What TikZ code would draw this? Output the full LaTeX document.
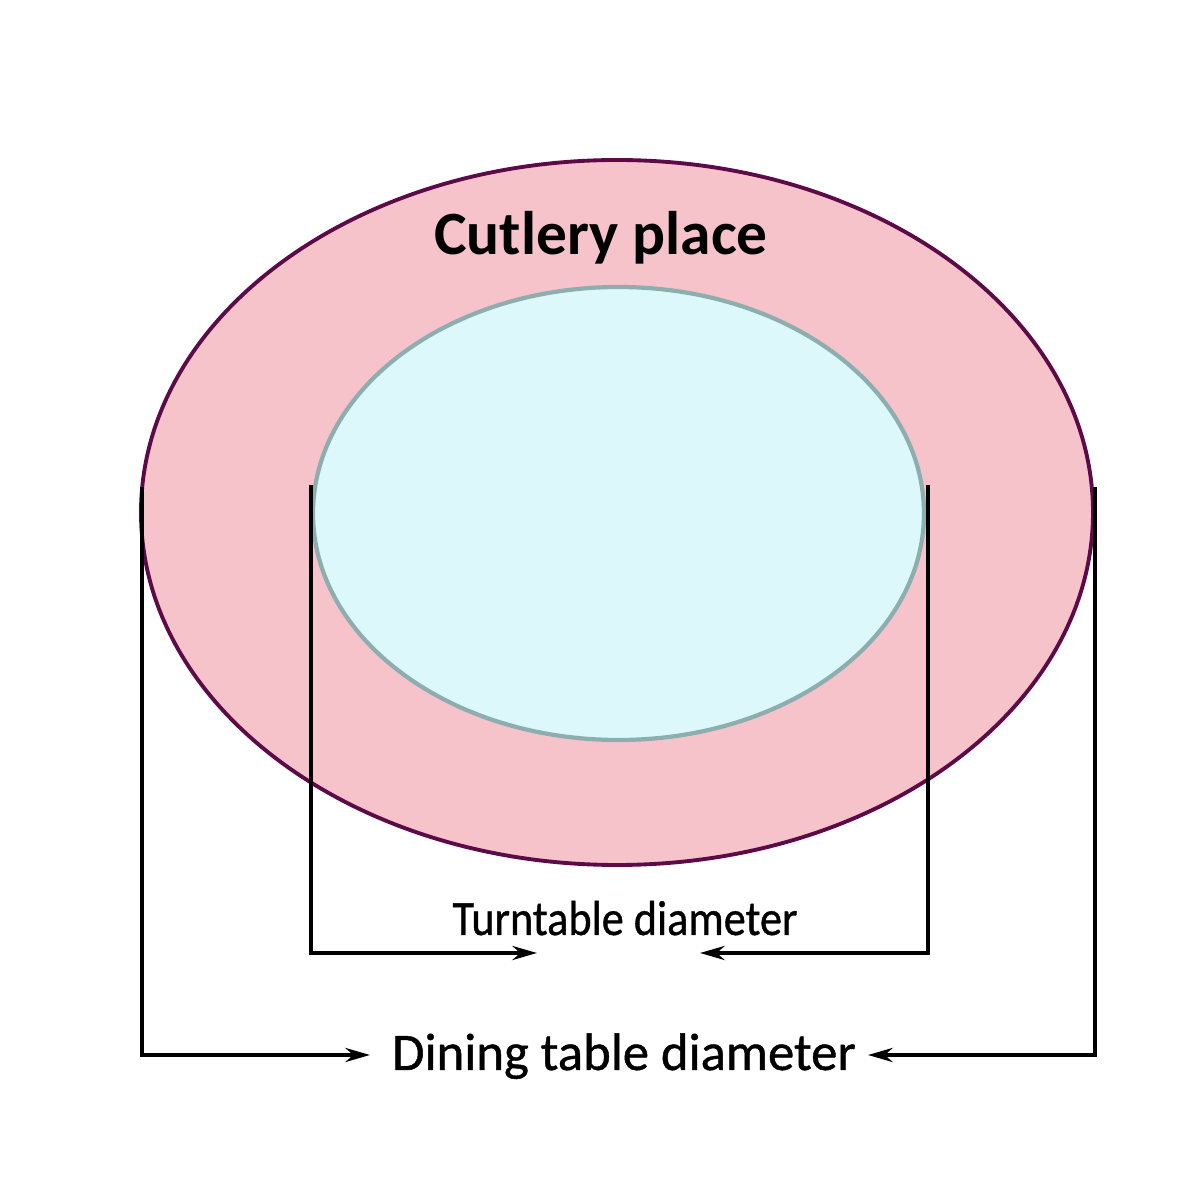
\documentclass[tikz,border=0pt]{standalone}
\usepackage{fontspec}
\setmainfont{Carlito}
\newfontfamily\dimfont[FakeBold=0.8]{Carlito}
\usetikzlibrary{arrows.meta}
\definecolor{tablepink}{HTML}{F6C3CB}
\definecolor{tableedge}{HTML}{5C0A48}
\definecolor{turnfill}{HTML}{DDF8FA}
\definecolor{turnedge}{HTML}{8CAEAE}
\begin{document}
\begin{tikzpicture}[line cap=butt,line join=miter,>={Stealth[length=7pt,width=4pt]}]
				\tikzset{dimline/.style={draw=black,line width=1.1pt},
					label/.style={inner sep=0pt,anchor=base,font=\dimfont\fontsize{14}{16}\selectfont}
				}
				\useasboundingbox (0,0) rectangle (12,12);
				\fill[white] (0,0) rectangle (12,12);
				\filldraw[fill=tablepink,draw=tableedge,line width=1.1pt] (6.17,6.875) ellipse (4.76 and 3.525);
				\filldraw[fill=turnfill,draw=turnedge,line width=1.2pt] (6.185,6.865) ellipse (3.055 and 2.265);
				\node[label,font=\normalfont\fontsize{17.5}{20}\selectfont\bfseries] (cutlery) at (6.01,9.45) {Cutlery place};
				\node[label,xscale=0.9] (turn) at (6.25,2.65) {Turntable diameter};
				\node[label,font=\dimfont\fontsize{15}{18}\selectfont] (dining) at (6.24,1.30) {Dining table diameter};
				% corners of the dimension lines
				\coordinate (tl) at (3.11,7.15); \coordinate (tr) at (9.28,7.15);
				\coordinate (tlb) at (3.11,2.47); \coordinate (trb) at (9.28,2.47);
				\coordinate (ta) at (5.37,2.47); \coordinate (tb) at (7.00,2.47);
				\coordinate (dl) at (1.42,7.13); \coordinate (dr) at (10.95,7.13);
				\coordinate (dlb) at (1.42,1.45); \coordinate (drb) at (10.95,1.45);
				\coordinate (da) at (3.70,1.45); \coordinate (db) at (8.68,1.45);
				\draw[dimline,->] (tl)--(tlb)--(ta);
				\draw[dimline,->] (tr)--(trb)--(tb);
				\draw[dimline,->] (dl)--(dlb)--(da);
				\draw[dimline,->] (dr)--(drb)--(db);
			\end{tikzpicture}
\end{document}
